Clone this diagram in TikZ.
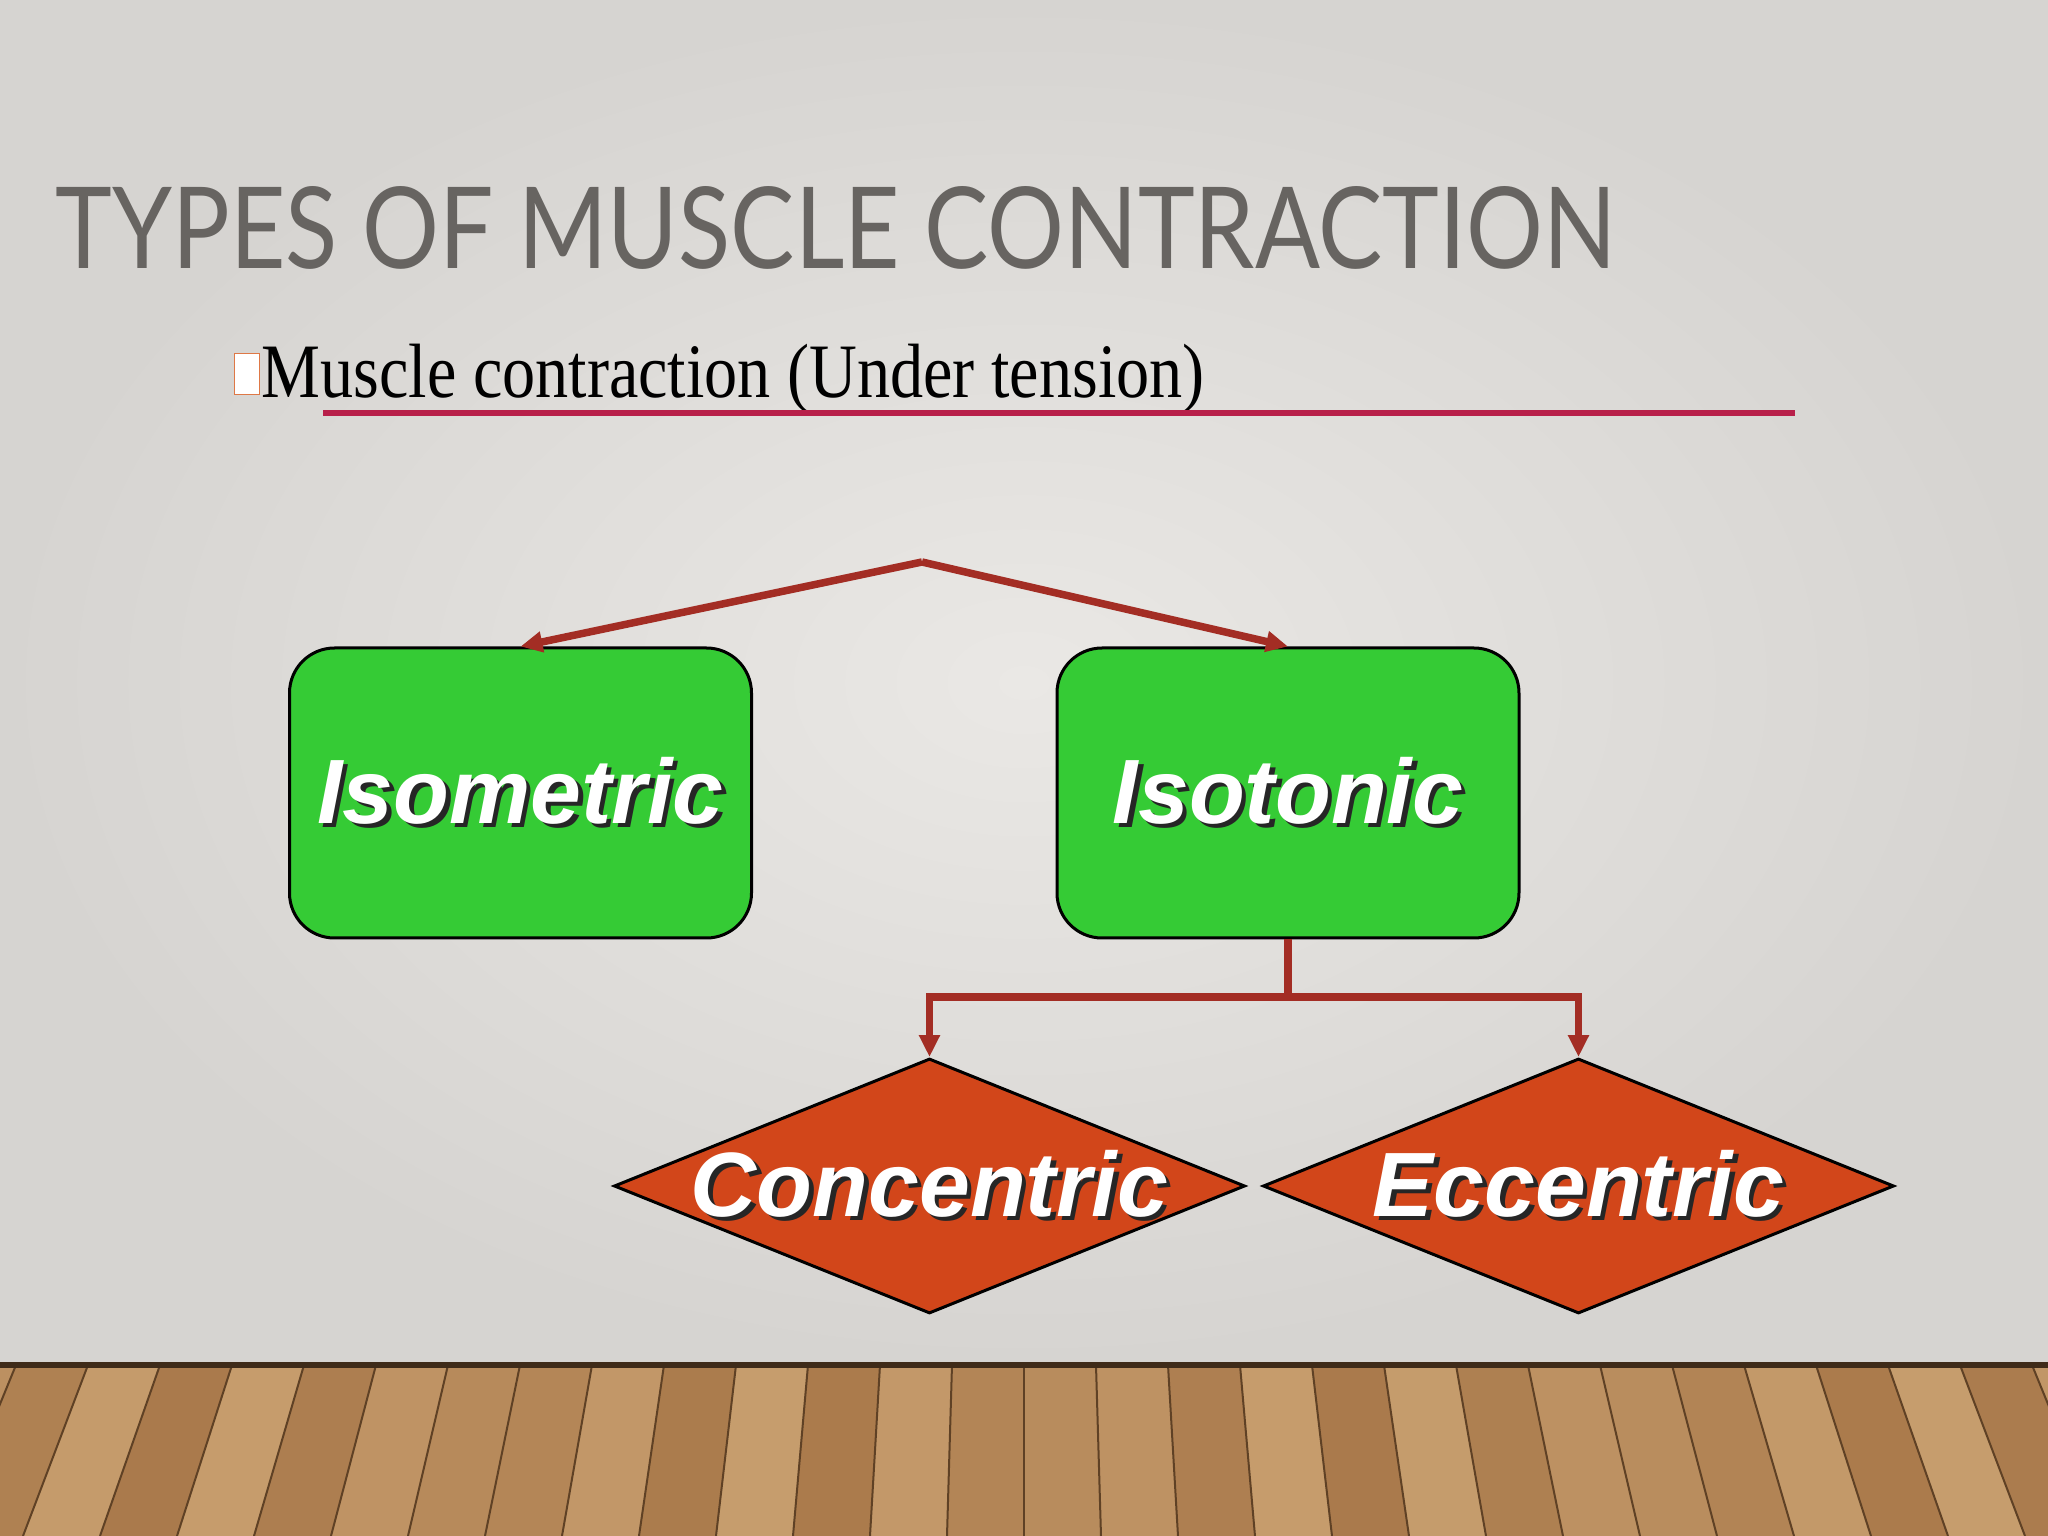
\documentclass[tikz,border=0pt]{standalone}
\usepackage{fontspec}
\usepackage{graphicx, xcolor}
\usepackage{tikz}
\usetikzlibrary{shapes.geometric, arrows.meta, positioning}
\setmainfont{Liberation Serif}
\newfontfamily\titlefont{Lato}
\newfontfamily\labelfont{Liberation Sans}
\definecolor{wallhi}{RGB}{234, 232, 229}
\definecolor{walllo}{RGB}{214, 212, 209}
\definecolor{titlegray}{RGB}{103, 100, 97}
\definecolor{rulered}{RGB}{184, 32, 74}
\definecolor{linkred}{RGB}{163, 45, 36}
\definecolor{boxgreen}{RGB}{53, 203, 53}
\definecolor{kiteorange}{RGB}{210, 70, 26}
\definecolor{bulletorange}{RGB}{222, 120, 70}
\definecolor{woodlight}{RGB}{206, 166, 118}
\definecolor{wooddark}{RGB}{158, 108, 62}
\newcommand{\dropshadow}[1]{\makebox[0pt][l]{\hspace{0.045cm}\raisebox{-0.045cm}{\textcolor{black!85}{#1}}}#1}

\begin{document}
\begin{tikzpicture}[
    arrow/.style={-{Triangle[length=0.22cm, width=0.2cm]}, line width=0.075cm, linkred},
    link/.style={line width=0.075cm, linkred},
    greenbox/.style={draw=black, line width=0.03cm, fill=boxgreen, rounded corners=0.45cm, minimum width=4.62cm, minimum height=2.9cm},
    kite/.style={diamond, draw=black, line width=0.03cm, fill=kiteorange, minimum width=6.31cm, minimum height=2.55cm, inner sep=0},
    boxlabel/.style={font=\labelfont\bfseries\itshape\fontsize{26}{30}\selectfont, text=white}
]
    \useasboundingbox (0,0) rectangle (20.48,-15.36);

    % Wall and floor
    \shade[inner color=wallhi, outer color=walllo] (0,0) rectangle (20.48,-13.65);
    \begin{scope}
        \clip (0,-13.65) rectangle (20.48,-15.36);
        \foreach \i in {-15,...,14}{
            \pgfmathtruncatemacro\tone{55+30*sin(\i*157)}
            \fill[woodlight!\tone!wooddark] ({10.24+\i*0.72},-13.65) -- ({10.24+(\i+1)*0.72},-13.65) -- ({10.24+(\i+1)*0.77},-15.36) -- ({10.24+\i*0.77},-15.36) -- cycle;
            \draw[wooddark!60!black, line width=0.02cm] ({10.24+\i*0.72},-13.65) -- ({10.24+\i*0.77},-15.36);
        }
    \end{scope}
    \draw[line width=0.06cm, wooddark!40!black] (0,-13.65) -- (20.48,-13.65);

    % Title
    \node[anchor=base west, inner sep=0, text=titlegray] (title) at (0.55,-2.69) {\titlefont\resizebox{15.6cm}{0.82cm}{TYPES OF MUSCLE CONTRACTION}};
    \node[draw=bulletorange, fill=white, line width=0.015cm, minimum width=0.25cm, minimum height=0.41cm, inner sep=0] (bullet) at (2.47,-3.74) {};
    \node[anchor=base west, inner sep=0] (subtitle) at (2.61,-3.98) {\fontsize{21.9}{26}\selectfont\scalebox{0.86}[1]{Muscle contraction (Under tension)}};
    \draw[rulered, line width=0.055cm] (3.23,-4.13) -- (17.95,-4.13);

    % Upper level
    \coordinate (split) at (9.22,-5.62);
    \node[greenbox, boxlabel] (isometric) at (5.205,-7.93) {\dropshadow{Isometric}};
    \node[greenbox, boxlabel] (isotonic) at (12.88,-7.93) {\dropshadow{Isotonic}};
    \draw[arrow] (split) -- (isometric.north);
    \draw[arrow] (split) -- (isotonic.north);

    % Lower level
    \node[kite] (concentric) at (9.295,-11.86) {};
    \node[kite] (eccentric) at (15.785,-11.86) {};
    \node[boxlabel] (concentrictext) at (concentric) {\dropshadow{Concentric}};
    \node[boxlabel] (eccentrictext) at (eccentric) {\dropshadow{Eccentric}};
    \coordinate (branch) at (12.88,-9.97);
    \draw[link] (isotonic.south) -- (branch);
    \draw[arrow] (branch) -| (concentric.north);
    \draw[arrow] (branch) -| (eccentric.north);
\end{tikzpicture}
\end{document}
